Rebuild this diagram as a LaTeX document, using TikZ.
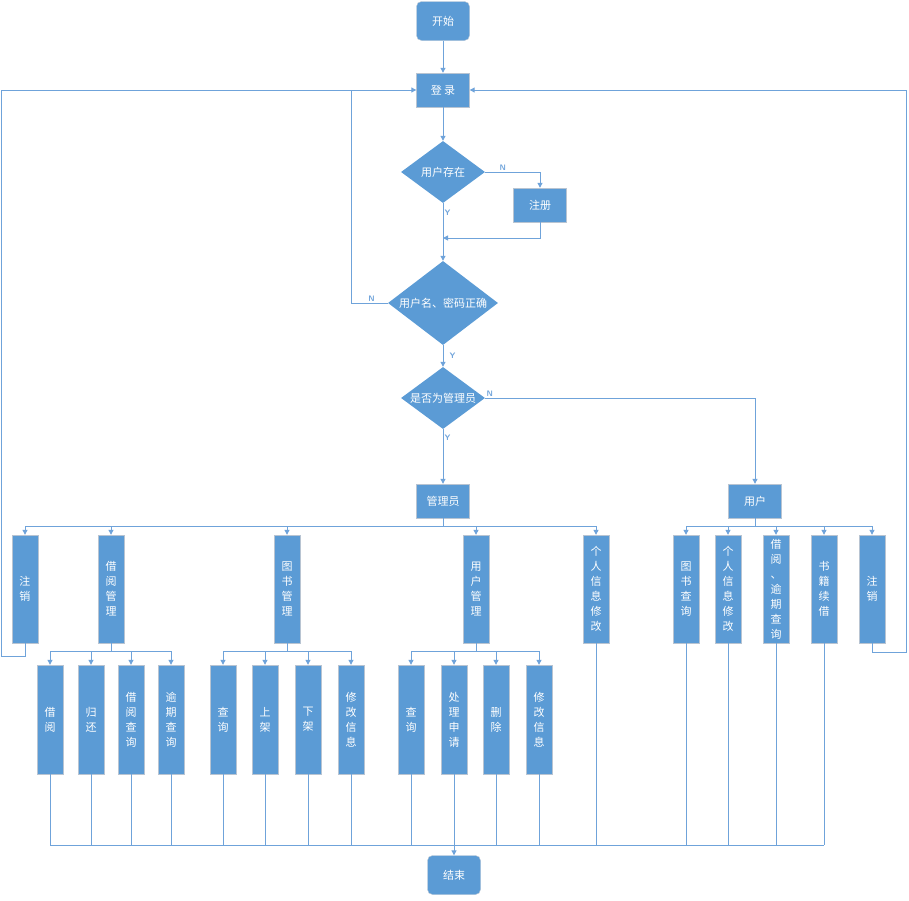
\documentclass[tikz,border=0pt]{standalone}
\usepackage{fontspec}
\newfontfamily\cjk{Noto Sans CJK SC}
\usetikzlibrary{shapes.geometric, positioning, arrows.meta, calc}
\definecolor{boxblue}{HTML}{5B9BD5}
\definecolor{edgegray}{HTML}{B8C4D2}
\definecolor{lineblue}{HTML}{6FA3DA}
\tikzset{
  startstop/.style={rectangle, rounded corners=5pt, minimum width=53pt, minimum height=39pt, draw=edgegray, fill=boxblue, text=white, font=\cjk\fontsize{11}{13}\selectfont},
  process/.style={rectangle, minimum width=53pt, minimum height=34pt, draw=edgegray, fill=boxblue, text=white, font=\cjk\fontsize{11}{13}\selectfont},
  decision/.style={diamond, inner sep=0pt, fill=boxblue, text=white, font=\cjk\fontsize{11}{13}\selectfont},
  tallbox/.style={rectangle, minimum width=26pt, minimum height=108pt, inner sep=0pt, align=center, draw=edgegray, fill=boxblue, text=white, font=\cjk\fontsize{11}{15}\selectfont},
  subbox/.style={tallbox, minimum height=109pt},
  arrow/.style={lineblue, line width=1pt, -{Triangle[width=5pt,length=5pt]}},
  wire/.style={lineblue, line width=1pt},
  yn/.style={text=lineblue, inner sep=1pt, font=\sffamily\bfseries\fontsize{8}{9}\selectfont}
}

\begin{document}
\begin{tikzpicture}[x=1pt, y=-1pt]
    \useasboundingbox (0,0) rectangle (909,900);

    % 1. Inicio y login
    \node[startstop] (start) at (443,21) {开始};
    \node[process] (login) at (443,90) {登 录};
    \node[decision, aspect=1.35, minimum width=84pt, minimum height=62pt] (exist) at (443,172) {用户存在};
    \node[process] (reg) at (540,205) {注册};
    \node[decision, aspect=1.31, minimum width=110pt, minimum height=84pt] (check) at (443,303) {用户名、密码正确};
    \node[decision, aspect=1.35, minimum width=84pt, minimum height=62pt] (isadmin) at (443,398) {是否为管理员};
    \node[process] (admin) at (443,501) {管理员};
    \node[process] (user) at (755,501) {用户};
    \node[startstop] (end) at (454,875) {结束};

    \coordinate (joinR) at (443,238);
    \coordinate (joinL) at (351,90);
    \coordinate (edgeL) at (1,90);
    \coordinate (edgeR) at (906,90);
    \coordinate (joinB) at (454,845);

    \draw[arrow] (start) -- (login);
    \draw[arrow] (login) -- (exist);
    \draw[arrow] (exist.east) -| (reg.north) node[yn, above, pos=0.16] {N};
    \draw[arrow] (reg.south) |- (joinR);
    \draw[arrow] (exist.south) -- (check.north) node[yn, right, pos=0.16] {Y};
    \draw[wire] (check.west) -| (joinL) node[yn, above, pos=0.22] {N};
    \draw[arrow] (joinL) -- (login.west);
    \draw[arrow] (check.south) -- (isadmin.north) node[yn, right=5pt, pos=0.5] {Y};
    \draw[arrow] (isadmin.east) -| (user.north) node[yn, above right, pos=0] {N};
    \draw[arrow] (isadmin.south) -- (admin.north) node[yn, right, pos=0.15] {Y};

    % 2. Funciones del administrador
    \foreach \name/\x/\txt in {aquit/25/{注\\销}, aborrow/111/{借\\阅\\管\\理},
        abook/287/{图\\书\\管\\理}, auser/476/{用\\户\\管\\理}, ainfo/596/{个\\人\\信\\息\\修\\改}} {
        \node[tallbox] (\name) at (\x,589) {\txt};
        \draw[arrow] (admin.south) -- ++(0,8) -| (\name.north);
    }

    % 3. Funciones del usuario
    \foreach \name/\x/\txt in {uquery/686/{图\\书\\查\\询}, uinfo/728/{个\\人\\信\\息\\修\\改},
        urecord/776/{借\\阅\\、\\逾\\期\\查\\询}, urenew/824/{书\\籍\\续\\借}, uquit/872/{注\\销}} {
        \node[tallbox] (\name) at (\x,589) {\txt};
        \draw[arrow] (user.south) -- ++(0,8) -| (\name.north);
    }

    % 4. Submenus
    \foreach \name/\x/\txt in {b1/50/{借\\阅}, b2/91/{归\\还}, b3/131/{借\\阅\\查\\询}, b4/171/{逾\\期\\查\\询}} {
        \node[subbox] (\name) at (\x,719.5) {\txt};
        \draw[arrow] (aborrow.south) -- ++(0,8) -| (\name.north);
    }
    \foreach \name/\x/\txt in {k1/223/{查\\询}, k2/265/{上\\架}, k3/308/{下\\架}, k4/351/{修\\改\\信\\息}} {
        \node[subbox] (\name) at (\x,719.5) {\txt};
        \draw[arrow] (abook.south) -- ++(0,8) -| (\name.north);
    }
    \foreach \name/\x/\txt in {s1/411/{查\\询}, s2/454/{处\\理\\申\\请}, s3/496/{删\\除}, s4/539/{修\\改\\信\\息}} {
        \node[subbox] (\name) at (\x,719.5) {\txt};
        \draw[arrow] (auser.south) -- ++(0,8) -| (\name.north);
    }

    % 5. Cierre y retorno al login
    \foreach \name in {b1,b2,b3,b4,k1,k2,k3,k4,s1,s3,s4,ainfo,uquery,uinfo,urecord,urenew} {
        \draw[wire] (\name.south) -- (\name.south |- joinB);
    }
    \draw[wire] (b1.south |- joinB) -- (urenew.south |- joinB);
    \draw[arrow] (s2.south) -- (end.north);
    \draw[wire] (aquit.south) -- ++(0,13) -| (edgeL) -- (joinL);
    \draw[arrow] (uquit.south) -- ++(0,9) -| (edgeR) -- (login.east);

\end{tikzpicture}
\end{document}
